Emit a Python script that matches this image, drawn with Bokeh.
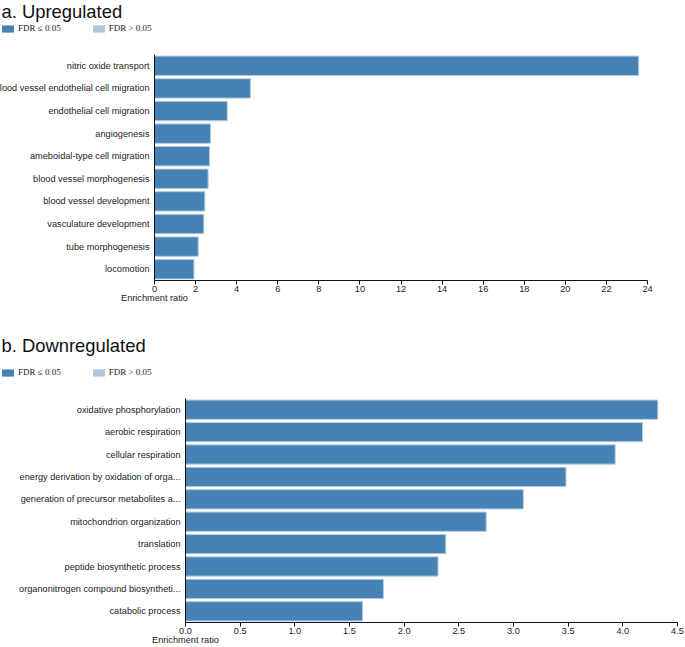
from bokeh.plotting import figure
from bokeh.models import (Range1d, FactorRange, ColumnDataSource, Legend, LegendItem,
                          FixedTicker, PrintfTickFormatter, Title, Label)
from bokeh.layouts import column
from bokeh.embed import file_html
from bokeh.resources import INLINE

# ---------------- data ----------------
up_terms = ["nitric oxide transport", "blood vessel endothelial cell migration",
            "endothelial cell migration", "angiogenesis", "ameboidal-type cell migration",
            "blood vessel morphogenesis", "blood vessel development", "vasculature development",
            "tube morphogenesis", "locomotion"]
up_ratio = [23.57, 4.67, 3.54, 2.73, 2.68, 2.61, 2.45, 2.40, 2.13, 1.92]
up_ticks = [0, 2, 4, 6, 8, 10, 12, 14, 16, 18, 20, 22, 24]

down_terms = ["oxidative phosphorylation", "aerobic respiration", "cellular respiration",
              "energy derivation by oxidation of orga...", "generation of precursor metabolites a...",
              "mitochondrion organization", "translation", "peptide biosynthetic process",
              "organonitrogen compound biosyntheti...", "catabolic process"]
down_ratio = [4.32, 4.18, 3.93, 3.48, 3.09, 2.75, 2.38, 2.31, 1.81, 1.62]
down_ticks = [0.0, 0.5, 1.0, 1.5, 2.0, 2.5, 3.0, 3.5, 4.0, 4.5]

titles = ["a. Upregulated", "b. Downregulated"]
legend_labels = ["FDR \u2264 0.05", "FDR > 0.05"]
axis_title = "Enrichment ratio"

SIG = "#4682b4"
NONSIG = "#b0c4de"
SANS = "Liberation Sans"
SERIF = "Liberation Serif"
FS = "9.2px"
NAN = float("nan")


def header(title, W, H, title_top, leg_vy):
    """Panel title and FDR legend, drawn in a small axis-less figure."""
    h = figure(width=W, height=H, title=None, x_range=Range1d(0, W), y_range=Range1d(0, H),
               output_backend="svg", toolbar_location=None,
               x_axis_location=None, y_axis_location=None,
               min_border_left=0, min_border_right=0, min_border_top=0, min_border_bottom=0)
    h.frame_align = False
    h.outline_line_color = None
    h.xgrid.visible = False
    h.ygrid.visible = False
    h.add_layout(Label(x=1, y=H - title_top, x_units="screen", y_units="screen", text=title,
                       text_align="left", text_baseline="top",
                       text_font=SANS, text_font_size="18.4px", text_color="#111"))
    # legend swatch renderers (a single NaN row: nothing is drawn in the plot area)
    d1 = h.hbar(y=[NAN], left=[NAN], right=[NAN], height=0.5, fill_color=SIG, line_color=None)
    d2 = h.hbar(y=[NAN], left=[NAN], right=[NAN], height=0.5, fill_color=NONSIG, line_color=None)
    leg = Legend(items=[LegendItem(label=legend_labels[0], renderers=[d1]),
                        LegendItem(label=legend_labels[1], renderers=[d2])],
                 orientation="horizontal", location=(0, leg_vy),
                 glyph_width=15, glyph_height=9, label_height=9, label_width=10,
                 label_standoff=3, spacing=30, padding=0, margin=0,
                 border_line_color=None, background_fill_alpha=0,
                 label_text_font=SERIF, label_text_font_size="9px",
                 label_text_color="#222")
    h.add_layout(leg)
    return h


def panel(terms, ratios, ticks, fmt, W, L, R, T, FH, B):
    H = T + FH + B
    p = figure(width=W, height=H, title=None,
               y_range=FactorRange(*list(reversed(terms))),
               x_range=Range1d(0, ticks[-1]),
               output_backend="svg", toolbar_location=None,
               min_border_left=L, min_border_right=R,
               min_border_top=T, min_border_bottom=B)
    p.frame_align = False
    p.outline_line_color = None
    p.xgrid.visible = False
    p.ygrid.visible = False

    src = ColumnDataSource(dict(term=terms, ratio=ratios))
    p.hbar(y="term", right="ratio", left=0, height=0.86, source=src,
           fill_color=SIG, line_color="#b4cbe3", line_width=1)

    xa = p.xaxis[0]
    xa.ticker = FixedTicker(ticks=ticks)
    xa.formatter = PrintfTickFormatter(format=fmt)
    xa.axis_line_color = "#111"
    xa.major_tick_line_color = "#111"
    xa.major_tick_out = 4
    xa.major_tick_in = 0
    xa.minor_tick_line_color = None
    xa.major_label_standoff = 1
    xa.major_label_text_font = SANS
    xa.major_label_text_font_size = FS
    xa.major_label_text_color = "#222"

    ya = p.yaxis[0]
    ya.axis_line_color = "#111"
    ya.major_tick_line_color = None
    ya.major_tick_out = 0
    ya.major_tick_in = 0
    ya.minor_tick_line_color = None
    ya.major_label_standoff = 5
    ya.major_label_text_font = SANS
    ya.major_label_text_font_size = FS
    ya.major_label_text_color = "#222"

    # "Enrichment ratio", centred under the axis origin
    p.add_layout(Title(text=axis_title, align="left", offset=-33.5, standoff=-4,
                       vertical_align="top", text_font=SANS, text_font_size=FS,
                       text_font_style="normal", text_color="#222"), "below")
    return p


ha = header(titles[0], W=685, H=42, title_top=0, leg_vy=9)
pa = panel(up_terms, up_ratio, up_ticks, "%d", W=685, L=163, R=29, T=12, FH=226, B=25)
# the long first-panel labels run past the left edge, as in the original page
pa.styles = {"margin-left": "-9px"}
hb = header(titles[1], W=685, H=81, title_top=29.5, leg_vy=9)
pb = panel(down_terms, down_ratio, down_ticks, "%.1f", W=685, L=185, R=8, T=12, FH=224, B=25)

layout = column(ha, pa, hb, pb, spacing=0)
open("out.html", "w").write(file_html(layout, INLINE))
